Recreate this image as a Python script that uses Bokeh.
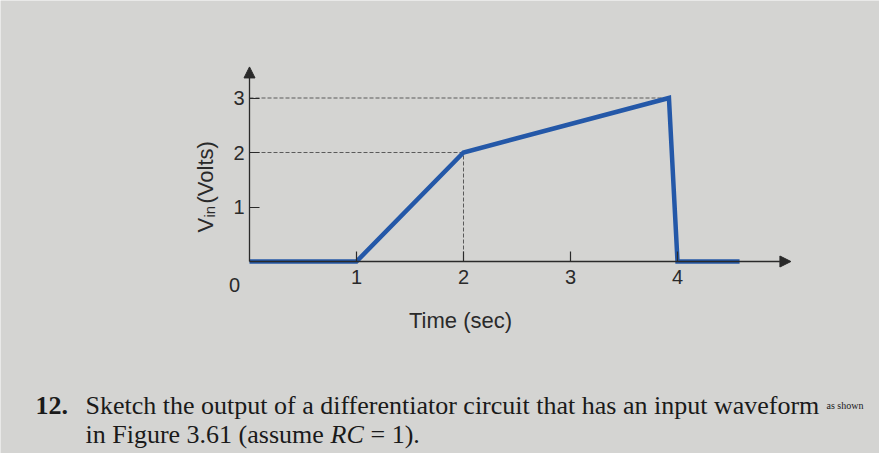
from bokeh.plotting import figure
from bokeh.models import Range1d, FixedTicker, Label, Arrow, NormalHead
from bokeh.embed import file_html
from bokeh.resources import INLINE
import math

# ---- data ----
t_sec = [0, 1, 2, 3.92, 4.0, 4.58]
v_in = [0, 0, 2, 3, 0, 0]
x_ticks = [1, 2, 3, 4]
y_ticks = [1, 2, 3]
guide_t = [2, 3.92]      # points marked by dashed guides
guide_v = [2, 3]
x_arrow_end = 5.06
y_arrow_end = 3.57

BG = "#d4d4d2"
INK = "#2a2a2a"
BLUE = "#2458a8"
SANS = "Liberation Sans"
SERIF = "Liberation Serif"

W, H = 879, 453
OX, OY = 249, 261        # origin in canvas pixels (top-left based)
UX, UY = 107.0, 54.5     # pixels per unit

p = figure(width=W, height=H, output_backend="svg", toolbar_location=None,
           x_range=Range1d(-OX / UX, (W - OX) / UX),
           y_range=Range1d(-(H - OY) / UY, OY / UY),
           min_border=0)
p.background_fill_color = BG
p.border_fill_color = BG
p.outline_line_color = None
p.xgrid.visible = False
p.ygrid.visible = False

for ax, ticks in ((p.xaxis, x_ticks), (p.yaxis, y_ticks)):
    ax.fixed_location = 0
    ax.ticker = FixedTicker(ticks=ticks)
    ax.minor_tick_line_color = None
    ax.major_tick_in = 10
    ax.major_tick_out = 0
    ax.axis_line_color = None
    ax.major_tick_line_color = INK
    ax.major_tick_line_width = 1.2
    ax.major_label_text_font = SANS
    ax.major_label_text_font_size = "20px"
    ax.major_label_text_color = INK
    ax.major_label_orientation = "horizontal"
p.xaxis.major_label_standoff = 8
p.yaxis.major_label_standoff = 5

# dashed guides
p.segment(x0=[0] * len(guide_v), y0=guide_v, x1=guide_t, y1=guide_v,
          line_color="#5a5a5a", line_width=1, line_dash="4 2")
p.segment(x0=[guide_t[0]], y0=[0], x1=[guide_t[0]], y1=[guide_v[0]],
          line_color="#5a5a5a", line_width=1, line_dash="4 2")

# axis lines with arrow heads
p.add_layout(Arrow(x_start=0, y_start=0, x_end=0, y_end=y_arrow_end, line_color=INK, line_width=1.3,
                   end=NormalHead(size=11, fill_color=INK, line_color=INK)))
p.add_layout(Arrow(x_start=0, y_start=0, x_end=x_arrow_end, y_end=0, line_color=INK, line_width=1.3,
                   end=NormalHead(size=11, fill_color=INK, line_color=INK)))

# waveform
p.line(t_sec, v_in, line_color=BLUE, line_width=4.5, line_join="miter")


def lab(x, y_top, text, **kw):
    """Label in canvas pixels, y measured from the top."""
    opts = dict(text_font=SANS, text_color=INK, text_baseline="alphabetic")
    opts.update(kw)
    p.add_layout(Label(x=x, y=H - y_top, x_units="screen", y_units="screen", text=text, **opts))


# origin label
lab(234, 284, "0", text_align="center", text_baseline="middle", text_font_size="20px")

# x axis title
lab(460, 320, "Time (sec)", text_align="center", text_baseline="middle", text_font_size="22px")

# y axis title (rotated, with subscript)
lab(205, 232, "V", angle=math.pi / 2, text_font_size="22px")
lab(209, 217, "in", angle=math.pi / 2, text_font_size="15px")
lab(205, 203, "(Volts)", angle=math.pi / 2, text_font_size="22px")

# question text
Q = "#1a1a1a"
lab(35, 405, "12.", text_font=SERIF, text_font_style="bold", text_font_size="26px", text_color=Q)
lab(85, 405, "Sketch the output of a differentiator circuit that has an input waveform",
    text_font=SERIF, text_font_size="26px", text_color=Q)
lab(826, 405, "as shown", text_font=SERIF, text_font_size="10px", text_color=Q)
lab(85, 434, "in Figure 3.61 (assume", text_font=SERIF, text_font_size="26px", text_color=Q)
lab(330, 434, "RC", text_font=SERIF, text_font_style="italic", text_font_size="26px", text_color=Q)
lab(370, 434, "= 1).", text_font=SERIF, text_font_size="26px", text_color=Q)

open("out.html", "w").write(file_html(p, INLINE))
